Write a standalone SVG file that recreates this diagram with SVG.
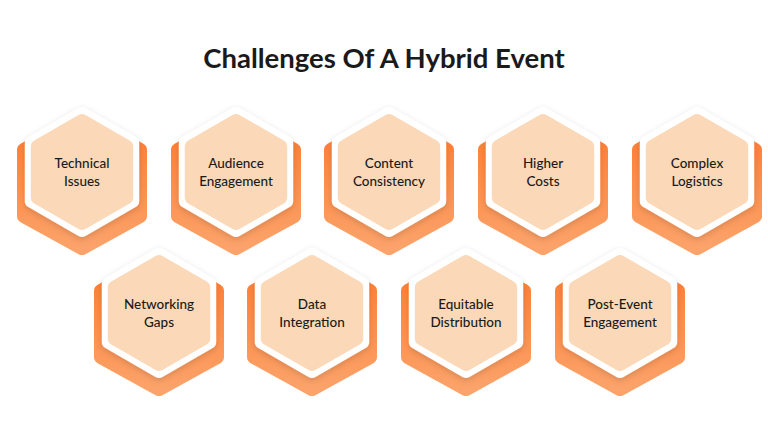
<svg xmlns="http://www.w3.org/2000/svg" width="768" height="432" viewBox="0 0 768 432">
<defs>
<style>
text{font-family:"Lato","Liberation Sans",sans-serif;fill:#1a1a1a;text-anchor:middle}
.t{font-size:27.5px;font-weight:bold}
.l{font-size:13.5px;font-weight:500}
.o{fill:url(#og);stroke:url(#og);stroke-width:14;stroke-linejoin:round}
.w{fill:#fff;stroke:#fff;stroke-width:14;stroke-linejoin:round;filter:url(#sh)}
.p{fill:#fbd9b8;stroke:#fbd9b8;stroke-width:14;stroke-linejoin:round}
</style>
<linearGradient id="og" x1="0" y1="0" x2="0" y2="1"><stop offset="0" stop-color="#ff7a2e"/><stop offset="1" stop-color="#fba36a"/></linearGradient>
<filter id="sh" x="-20%" y="-20%" width="140%" height="140%"><feDropShadow dx="0" dy="2" stdDeviation="3" flood-color="#000" flood-opacity="0.15"/></filter>
<polygon id="ho" points="0,-65 58,-33 58,33 0,65 -58,33 -58,-33"/>
<polygon id="hw" points="0,-58 50.2,-29 50.2,29 0,58 -50.2,29 -50.2,-29"/>
<polygon id="hp" points="0,-51 44.2,-25.5 44.2,25.5 0,51 -44.2,25.5 -44.2,-25.5"/>
</defs>
<rect width="768" height="432" fill="#fff"/>
<text class="t" x="384" y="68">Challenges Of A Hybrid Event</text>
<g id="n1" transform="translate(82,172)"><use href="#ho" class="o" y="11"/><use href="#hw" class="w"/><use href="#hp" class="p"/><text class="l" y="-4">Technical</text><text class="l" y="14">Issues</text></g>
<g id="n2" transform="translate(236,172)"><use href="#ho" class="o" y="11"/><use href="#hw" class="w"/><use href="#hp" class="p"/><text class="l" y="-4">Audience</text><text class="l" y="14">Engagement</text></g>
<g id="n3" transform="translate(389,172)"><use href="#ho" class="o" y="11"/><use href="#hw" class="w"/><use href="#hp" class="p"/><text class="l" y="-4">Content</text><text class="l" y="14">Consistency</text></g>
<g id="n4" transform="translate(543,172)"><use href="#ho" class="o" y="11"/><use href="#hw" class="w"/><use href="#hp" class="p"/><text class="l" y="-4">Higher</text><text class="l" y="14">Costs</text></g>
<g id="n5" transform="translate(697,172)"><use href="#ho" class="o" y="11"/><use href="#hw" class="w"/><use href="#hp" class="p"/><text class="l" y="-4">Complex</text><text class="l" y="14">Logistics</text></g>
<g id="n6" transform="translate(159,313)"><use href="#ho" class="o" y="11"/><use href="#hw" class="w"/><use href="#hp" class="p"/><text class="l" y="-4">Networking</text><text class="l" y="14">Gaps</text></g>
<g id="n7" transform="translate(312,313)"><use href="#ho" class="o" y="11"/><use href="#hw" class="w"/><use href="#hp" class="p"/><text class="l" y="-4">Data</text><text class="l" y="14">Integration</text></g>
<g id="n8" transform="translate(466,313)"><use href="#ho" class="o" y="11"/><use href="#hw" class="w"/><use href="#hp" class="p"/><text class="l" y="-4">Equitable</text><text class="l" y="14">Distribution</text></g>
<g id="n9" transform="translate(620,313)"><use href="#ho" class="o" y="11"/><use href="#hw" class="w"/><use href="#hp" class="p"/><text class="l" y="-4">Post-Event</text><text class="l" y="14">Engagement</text></g>
<g id="connectors"/>
</svg>
